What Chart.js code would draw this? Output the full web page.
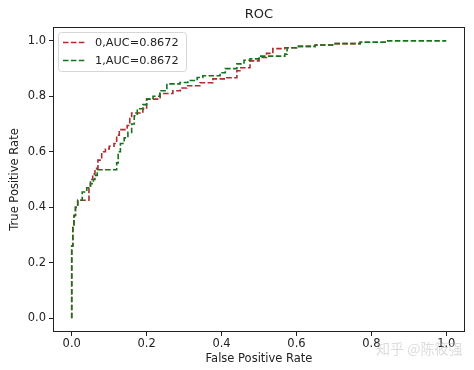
<!DOCTYPE html>
<html>
<head>
<meta charset="utf-8">
<script src="https://cdn.jsdelivr.net/npm/chart.js@4"></script>
<style>
  html, body { margin: 0; padding: 0; background: #fff; }
  #wrap { width: 474px; height: 370px; }
</style>
</head>
<body>
<div id="wrap"><canvas id="roc" width="474" height="370"></canvas></div>
<script>
// ====== Données ======
// courbe 0 (rouge)
const fpr0 = [0, 0, 0.003, 0.006, 0.01, 0.016, 0.046, 0.05, 0.056, 0.062, 0.07, 0.08, 0.09, 0.1, 0.113, 0.12, 0.127, 0.148, 0.155, 0.16, 0.19, 0.2, 0.236, 0.27, 0.29, 0.307, 0.342, 0.377, 0.414, 0.441, 0.449, 0.476, 0.5, 0.52, 0.537, 0.569, 0.6, 0.65, 0.7, 0.77, 0.84];
const tpr0 = [0, 0.26, 0.33, 0.37, 0.4, 0.425, 0.47, 0.5, 0.52, 0.54, 0.57, 0.6, 0.61, 0.62, 0.63, 0.66, 0.68, 0.695, 0.72, 0.74, 0.755, 0.79, 0.81, 0.82, 0.83, 0.838, 0.849, 0.863, 0.867, 0.892, 0.903, 0.928, 0.94, 0.955, 0.972, 0.975, 0.98, 0.985, 0.99, 0.995, 1.0];
// courbe 1 (verte)
const fpr1 = [0, 0, 0.003, 0.006, 0.01, 0.016, 0.028, 0.04, 0.05, 0.058, 0.062, 0.068, 0.12, 0.124, 0.13, 0.14, 0.15, 0.16, 0.167, 0.175, 0.19, 0.2, 0.217, 0.235, 0.254, 0.289, 0.31, 0.335, 0.35, 0.396, 0.41, 0.441, 0.46, 0.476, 0.5, 0.569, 0.575, 0.6, 0.65, 0.7, 0.77, 0.84, 1.0];
const tpr1 = [0, 0.26, 0.33, 0.37, 0.4, 0.425, 0.455, 0.47, 0.485, 0.5, 0.515, 0.535, 0.56, 0.6, 0.63, 0.65, 0.67, 0.7, 0.73, 0.755, 0.77, 0.79, 0.8, 0.82, 0.845, 0.85, 0.857, 0.868, 0.874, 0.885, 0.9, 0.917, 0.93, 0.935, 0.945, 0.952, 0.975, 0.98, 0.985, 0.99, 0.995, 1.0, 1.0];

const seriesLabels = ["0,AUC=0.8672", "1,AUC=0.8672"];
const seriesColors = ["#b02a30", "#17731a"];
const xTicks = [0, 0.2, 0.4, 0.6, 0.8, 1.0];
const yTicks = [0, 0.2, 0.4, 0.6, 0.8, 1.0];

const FONT = "'DejaVu Sans', sans-serif";
const TXT = "#222";
const DASH = [5.5, 2.4];

function toPoints(xs, ys) {
  return xs.map((x, i) => ({ x, y: ys[i] }));
}

// ====== Décor façon matplotlib : cadre, titre, légende, filigrane ======
const decor = {
  id: "decor",
  afterDraw(chart) {
    const { ctx, chartArea: a } = chart;
    ctx.save();

    // cadre
    ctx.strokeStyle = "#222";
    ctx.lineWidth = 1;
    ctx.strokeRect(a.left + 0.5, a.top + 0.5, a.right - a.left - 1, a.bottom - a.top - 1);

    // titre + titres d'axes
    ctx.fillStyle = TXT;
    ctx.textAlign = "center";
    ctx.textBaseline = "middle";
    ctx.font = "13px " + FONT;
    ctx.fillText("ROC", (a.left + a.right) / 2, 15);
    ctx.font = "11.5px " + FONT;
    ctx.fillText("False Positive Rate", (a.left + a.right) / 2, 359);
    ctx.save();
    ctx.translate(15, (a.top + a.bottom) / 2);
    ctx.rotate(-Math.PI / 2);
    ctx.fillText("True Positive Rate", 0, 0);
    ctx.restore();

    // légende
    const lx = 58, ly = 32, lw = 128, lh = 39;
    ctx.fillStyle = "rgba(255,255,255,0.85)";
    ctx.strokeStyle = "#d6d6d6";
    ctx.lineWidth = 1;
    ctx.beginPath();
    ctx.roundRect(lx + 0.5, ly + 0.5, lw, lh, 3);
    ctx.fill();
    ctx.stroke();
    ctx.font = "11.3px " + FONT;
    ctx.textAlign = "left";
    seriesLabels.forEach((lab, i) => {
      const yy = 42.5 + i * 18;
      ctx.strokeStyle = seriesColors[i];
      ctx.lineWidth = 1.5;
      ctx.setLineDash(DASH);
      ctx.beginPath();
      ctx.moveTo(63, yy);
      ctx.lineTo(85, yy);
      ctx.stroke();
      ctx.setLineDash([]);
      ctx.fillStyle = TXT;
      ctx.fillText(lab, 95, yy + 0.5);
    });

    // filigrane
    ctx.font = "14px 'Noto Sans CJK SC', sans-serif";
    ctx.fillStyle = "rgba(185,185,185,0.5)";
    ctx.textAlign = "left";
    ctx.fillText("知乎 @陈筱强", 376, 349);

    ctx.restore();
  }
};

// ====== Graphique ======
const ctx = document.getElementById("roc").getContext("2d");
new Chart(ctx, {
  type: "scatter",
  data: {
    datasets: [
      {
        label: seriesLabels[0],
        data: toPoints(fpr0, tpr0),
        showLine: true,
        stepped: "before",
        borderColor: seriesColors[0],
        borderWidth: 1.6,
        borderDash: DASH,
        pointRadius: 0,
        fill: false,
        order: 1
      },
      {
        label: seriesLabels[1],
        data: toPoints(fpr1, tpr1),
        showLine: true,
        stepped: "before",
        borderColor: seriesColors[1],
        borderWidth: 1.6,
        borderDash: DASH,
        pointRadius: 0,
        fill: false,
        order: 0
      }
    ]
  },
  options: {
    responsive: false,
    animation: false,
    layout: { padding: { left: 0, right: 9, top: 27, bottom: 0 } },
    plugins: {
      legend: { display: false },
      tooltip: { enabled: false },
      title: { display: false }
    },
    scales: {
      x: {
        type: "linear",
        min: -0.05,
        max: 1.05,
        afterBuildTicks: s => { s.ticks = xTicks.map(v => ({ value: v })); },
        afterFit: s => { s.height = 38; },
        border: { display: false },
        grid: { display: true, drawOnChartArea: false, drawTicks: true, tickLength: 4, color: "#222" },
        ticks: {
          color: TXT,
          padding: 1,
          maxRotation: 0,
          font: { family: FONT, size: 11.5 },
          callback: v => v.toFixed(1)
        }
      },
      y: {
        type: "linear",
        min: -0.05,
        max: 1.05,
        afterBuildTicks: s => { s.ticks = yTicks.map(v => ({ value: v })); },
        afterFit: s => { s.width = 53; },
        border: { display: false },
        grid: { display: true, drawOnChartArea: false, drawTicks: true, tickLength: 4, color: "#222" },
        ticks: {
          color: TXT,
          padding: 3,
          font: { family: FONT, size: 11.5 },
          callback: v => v.toFixed(1)
        }
      }
    }
  },
  plugins: [decor]
});
</script>
</body>
</html>
